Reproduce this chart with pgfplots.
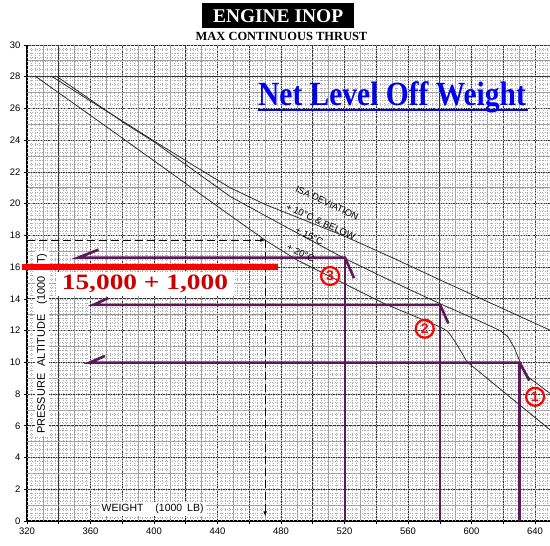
\documentclass[border=0pt]{standalone}
\usepackage{fontspec}
\setmainfont{Liberation Sans}
\newfontfamily\serif{Liberation Serif}
\usepackage{graphicx}
\usepackage{pgfplots}
\pgfplotsset{compat=1.18}

\definecolor{route}{RGB}{92,24,88}
\definecolor{netblue}{RGB}{0,0,238}
\definecolor{darkred}{RGB}{204,0,0}

\begin{document}
\begin{tikzpicture}
\useasboundingbox (0,0) rectangle (550bp,546bp);
\node[fill=black, text=white, inner sep=0pt, minimum width=152.6bp, minimum height=24.5bp,
  font=\serif\bfseries\fontsize{19.5}{20}\selectfont] at (278.1bp,530.3bp) {ENGINE INOP};
\node[anchor=base, inner sep=0pt, font=\serif\bfseries\fontsize{12.5}{13}\selectfont]
  at (281.5bp,505.6bp) {MAX CONTINUOUS THRUST};
\begin{axis}[
    at={(27bp,25bp)}, anchor=south west,
    width=523bp, height=476bp, scale only axis,
    xmin=320, xmax=649.4, ymin=0, ymax=30,
    clip=false,
    axis x line=bottom, axis y line=left,
    axis line style={-, line width=2.4bp, black},
    xtick={320,340,...,640},
    xticklabels={320,,360,,400,,440,,480,,520,,560,,600,,640},
    ytick={0,2,...,30},
    minor x tick num=1, minor y tick num=1,
    tick align=outside, major tick length=3bp, minor tick length=0pt,
    tick style={black, line width=0.6bp},
    ticklabel style={font=\fontsize{9.5}{10}\selectfont},
    /pgf/number format/assume math mode=true,
    grid=both,
    major grid style={black!80, line width=0.75bp},
    minor grid style={black!40, line width=0.75bp},
    extra x ticks={322.5,325,...,647.5},
    extra y ticks={0.25,0.5,...,29.75},
    extra x tick labels={}, extra y tick labels={},
    extra tick style={grid=major, major tick length=0pt,
      major grid style={black!32, line width=0.45bp, dash pattern=on 0.6bp off 1.9bp}},
]

% ISA +10 C and below
\addplot[black!85, line width=0.75bp] coordinates {
(336,28.0)(350,27.1)(365,26.15)(381,25.15)(400,23.95)(425,22.4)(448,21.0)
(470,19.95)(500,18.75)(520,17.95)(550,16.6)(580,15.2)(615,13.6)(650,12.0)};
% ISA +15 C
\addplot[black!85, line width=0.75bp] coordinates {
(339,28.0)(360,26.55)(381,25.1)(400,23.9)(425,22.1)(448,20.45)(480,18.7)
(520,16.55)(550,15.1)(580,13.7)(605,12.6)(618,12.0)(623,11.6)(627,10.9)
(630.6,10.0)(634,9.2)(650,8.0)};
% ISA +20 C
\addplot[black!85, line width=0.75bp] coordinates {
(325,28.05)(370,24.85)(400,22.7)(446,19.4)(470,17.7)(490,16.45)(511,15.4)
(545,13.7)(580,12.24)(585,11.95)(589,11.4)(593,10.75)(597,10.04)(650,5.7)};

% worked example, dashed
\addplot[black, line width=0.7bp, dash pattern=on 8bp off 4bp, -latex] coordinates {(320,17.7)(470,17.7)};
\addplot[black, line width=0.7bp, dash pattern=on 8bp off 4bp, -latex] coordinates {(470,17.7)(470,0.3)};

\node[rotate=90, fill=white, inner sep=2bp, font=\fontsize{11}{11}\selectfont]
  at (axis cs:329.4,11.18) {PRESSURE\hspace{7bp}ALTITUDE\hspace{10bp}(1000\hspace{6bp}FT)};
\node[fill=white, inner sep=2bp, font=\fontsize{10.5}{10.5}\selectfont]
  at (axis cs:399.1,0.76) {WEIGHT\hspace{12bp}(1000\hspace{5bp}LB)};

% red marker at 16,000 ft
\addplot[red, line width=5.7bp] coordinates {(316.7,16.0)(478.3,16.0)};

% purple routes
\addplot[route, line width=2.6bp] coordinates {(365,17.1)(352.3,16.6)(520.3,16.6)(526,15.3)};
\addplot[route, line width=2.6bp] coordinates {(520.3,16.6)(520.3,0)};
\addplot[route, line width=2.6bp] coordinates {(371.2,14.05)(361.8,13.62)(580.2,13.62)(585.4,12.45)};
\addplot[route, line width=2.6bp] coordinates {(580.2,13.62)(580.2,0)};
\addplot[route, line width=2.6bp] coordinates {(369.1,10.4)(359.3,9.98)(630.3,9.98)(636.4,8.85)};
\addplot[route, line width=2.6bp] coordinates {(630.3,9.98)(630.3,0)};

\node[fill=white, inner xsep=6bp, inner ysep=3bp, text=darkred,
  font=\serif\bfseries\fontsize{22}{22}\selectfont]
  at (axis cs:394.3,14.93) {\scalebox{1.25}[1]{15,000 + 1,000}};

\node[circle, draw=red, line width=2.2bp, text=red, inner sep=0pt, minimum size=18bp,
  font=\bfseries\fontsize{14}{14}\selectfont] at (axis cs:510.9,15.44) {3};
\node[circle, draw=red, line width=2.2bp, text=red, inner sep=0pt, minimum size=18bp,
  font=\bfseries\fontsize{14}{14}\selectfont] at (axis cs:570.5,12.12) {2};
\node[circle, draw=red, line width=2.2bp, text=red, inner sep=0pt, minimum size=18bp,
  font=\bfseries\fontsize{14}{14}\selectfont] at (axis cs:640,7.83) {1};

\node[rotate=-25, inner sep=0pt, font=\fontsize{9.5}{10}\selectfont] at (axis cs:509.0,20.05) {ISA DEVIATION};
\node[rotate=-25, inner sep=0pt, font=\fontsize{9.5}{10}\selectfont] at (axis cs:505.0,18.85) {+ 10°C \& BELOW};
\node[rotate=-25, inner sep=0pt, font=\fontsize{9.5}{10}\selectfont] at (axis cs:497.8,17.95) {+ 15°C};
\node[rotate=-25, inner sep=0pt, font=\fontsize{9.5}{10}\selectfont] at (axis cs:492.4,16.9) {+ 20°C};

\node[anchor=base, inner sep=0pt, text=netblue, font=\serif\bfseries\fontsize{34}{34}\selectfont]
  at (axis cs:549.9,26.2) {\scalebox{0.87}[1]{Net Level Off Weight}};
\addplot[netblue, line width=2bp] coordinates {(465.5,25.88)(635.6,25.88)};

\end{axis}
\end{tikzpicture}
\end{document}
